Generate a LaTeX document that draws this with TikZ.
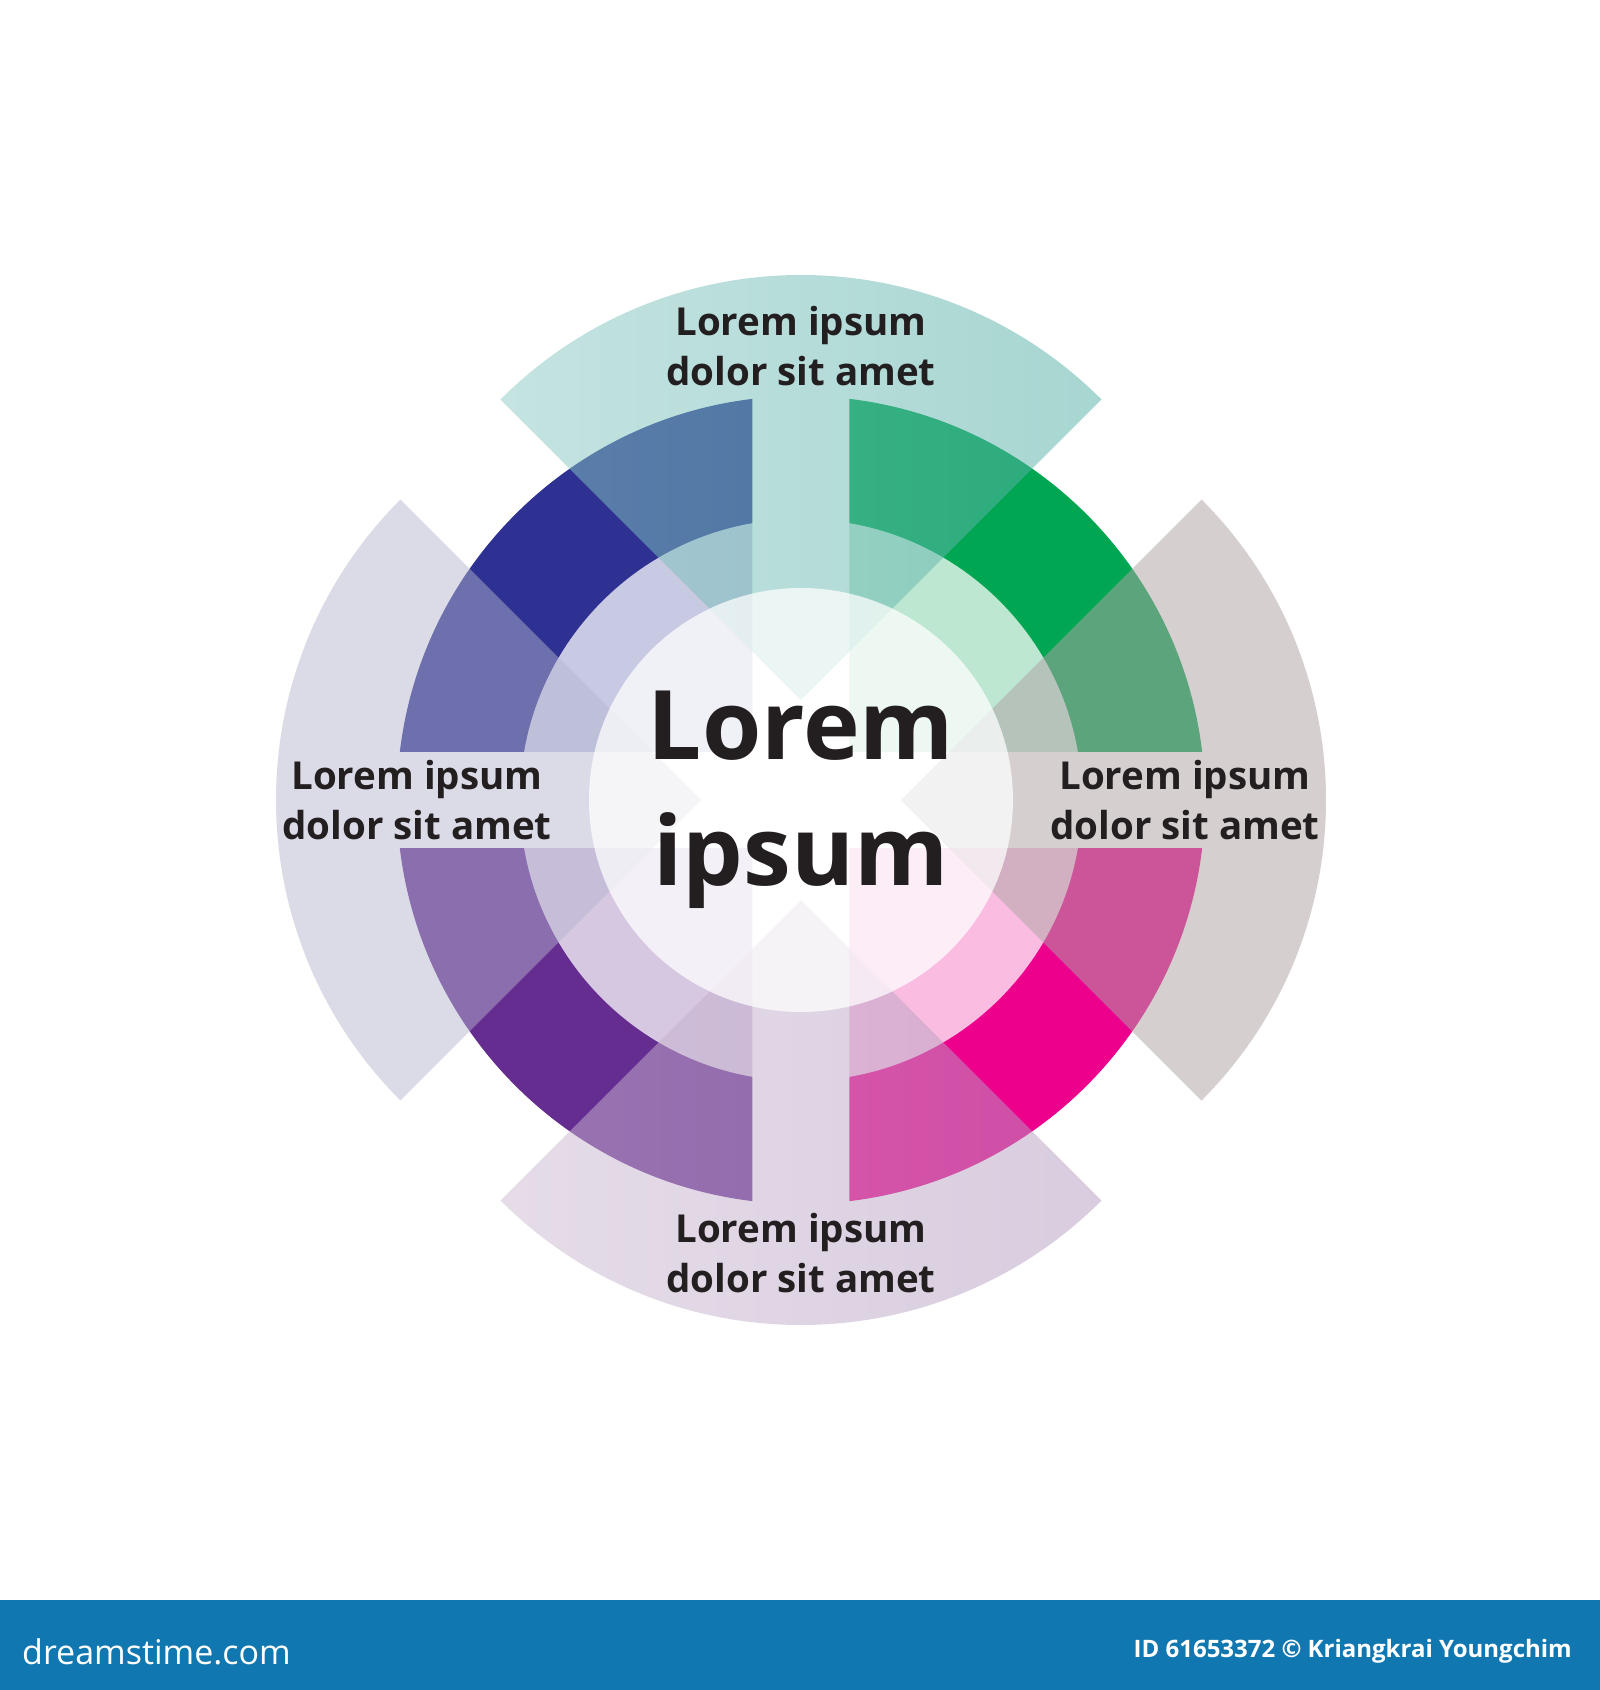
\documentclass[tikz,border=0pt]{standalone}
\usepackage{fontspec}
\setmainfont{Open Sans}
\definecolor{qblue}{RGB}{46,49,146}
\definecolor{qgreen}{RGB}{0,166,81}
\definecolor{qmagenta}{RGB}{236,0,140}
\definecolor{qpurple}{RGB}{102,45,145}
\definecolor{fantopL}{RGB}{141,202,198}
\definecolor{fantopR}{RGB}{84,175,165}
\definecolor{fanleft}{RGB}{181,181,206}
\definecolor{fanright}{RGB}{175,163,165}
\definecolor{fanbottomL}{RGB}{205,187,211}
\definecolor{fanbottomR}{RGB}{179,155,191}
\definecolor{inktext}{RGB}{35,31,32}
\definecolor{footblue}{RGB}{16,119,176}

\begin{document}
\begin{tikzpicture}[x=1pt,y=1pt,
  lbl/.style={text=inktext, align=center, inner sep=0pt, font=\bfseries\fontsize{38.5}{50}\selectfont}]
\useasboundingbox (-801,-890) rectangle (799,800);
\fill[white] (-801,-890) rectangle (799,800);

% coloured quarters
\foreach \a/\c in {0/qgreen, 90/qblue, 180/qpurple, 270/qmagenta}{
  \begin{scope}[rotate=\a]
    \clip (48.5,48.5) rectangle (420,420);
    \fill[\c] (0,0) circle (404);
  \end{scope}
}
\fill[white, fill opacity=0.74] (0,0) circle (281);

% fans
\foreach \a/\cl/\cr/\o in {90/fantopL/fantopR/0.51, 180/fanleft/fanleft/0.48,
    0/fanright/fanright/0.52, 270/fanbottomL/fanbottomR/0.5}
  \shade[left color=\cl, right color=\cr, fill opacity=\o] (\a:100) -- ++(\a-45:425)
    arc[start angle=\a-45, end angle=\a+45, radius=425] -- cycle;

\fill[white, fill opacity=0.73] (0,0) circle (212);

\node[text=inktext, align=center, inner sep=0pt, font=\bfseries\fontsize{96}{126}\selectfont] (centre) at (0,0) {Lorem\\ipsum};
\node[lbl] (toplbl) at (0,454) {Lorem ipsum\\dolor sit amet};
\node[lbl] (leftlbl) at (-384,0) {Lorem ipsum\\dolor sit amet};
\node[lbl] (rightlbl) at (384,0) {Lorem ipsum\\dolor sit amet};
\node[lbl] (bottomlbl) at (0,-453) {Lorem ipsum\\dolor sit amet};

% footer
\fill[footblue] (-801,-890) rectangle (799,-800);
\node[anchor=base west, text=white, inner sep=0pt, font=\fontsize{34}{34}\selectfont] (site) at (-779,-864) {dreamstime.com};
\node[anchor=base east, text=white, inner sep=0pt, font=\bfseries\fontsize{24}{24}\selectfont] (credit) at (771,-857) {ID 61653372 © Kriangkrai Youngchim};
\end{tikzpicture}
\end{document}
